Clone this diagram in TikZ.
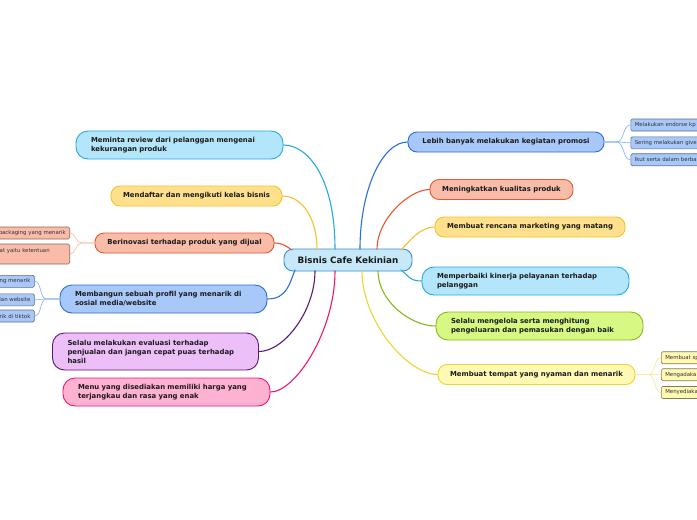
\documentclass[tikz,border=0pt]{standalone}
\usepackage{fontspec}
\setmainfont{DejaVu Sans}
\usetikzlibrary{calc}
\definecolor{txt}{HTML}{1A1A1A}
\definecolor{leaftxt}{HTML}{333333}
\definecolor{centerfill}{HTML}{C6E8F8}
\definecolor{centerline}{HTML}{3B8ED3}
\definecolor{cyanfill}{HTML}{B3E5FB}
\definecolor{cyanline}{HTML}{27A8E3}
\definecolor{yellowfill}{HTML}{FFE08C}
\definecolor{yellowline}{HTML}{F8BF2A}
\definecolor{salmonfill}{HTML}{F9BCA9}
\definecolor{salmonline}{HTML}{E9552E}
\definecolor{bluefill}{HTML}{A8C8F9}
\definecolor{blueline}{HTML}{2A6FD6}
\definecolor{purplefill}{HTML}{ECBFF9}
\definecolor{purpleline}{HTML}{5A1973}
\definecolor{pinkfill}{HTML}{FFB1D3}
\definecolor{pinkline}{HTML}{F2156D}
\definecolor{limefill}{HTML}{D7F984}
\definecolor{limeline}{HTML}{87B81D}
\definecolor{lyellowfill}{HTML}{FFF9B3}
\definecolor{lyellowline}{HTML}{EED433}

\begin{document}
\begin{tikzpicture}[x=1pt,y=-1pt,
	topic/.style={draw, line width=0.9pt, rounded corners=9pt, inner ysep=0pt, text=txt,
		font=\fontsize{6.9}{9}\selectfont\bfseries},
	oneline/.style={inner xsep=0pt, align=center},
	twoline/.style={inner xsep=15pt, align=left, rounded corners=12pt},
	leaf/.style={draw, line width=0.6pt, rounded corners=1.5pt, inner xsep=4pt, inner ysep=0pt,
		minimum height=12pt, text width=100pt, text=leaftxt, font=\fontsize{5.4}{7}\selectfont},
	link/.style={line width=1.1pt, line cap=round},
	leaflink/.style={line width=0.7pt}]
	\useasboundingbox (0,0) rectangle (697,520);
	\clip (0,0) rectangle (697,520);

	\node[draw=centerline, fill=centerfill, line width=0.9pt, rounded corners=9pt, text=txt,
		font=\fontsize{8.8}{10}\selectfont\bfseries, minimum width=128pt, minimum height=22pt,
		inner sep=0pt] (c) at (348,260) {Bisnis Cafe Kekinian};

	% left side
	\node[topic, twoline, draw=cyanline, fill=cyanfill, text width=177pt, minimum height=28pt]
		(review) at (179.5,145) {Meminta review dari pelanggan mengenai\\kekurangan produk};
	\node[topic, oneline, draw=yellowline, fill=yellowfill, minimum width=171pt, minimum height=20pt]
		(kelas) at (196.5,196) {Mendaftar dan mengikuti kelas bisnis};
	\node[topic, oneline, draw=salmonline, fill=salmonfill, minimum width=179pt, minimum height=20pt]
		(inovasi) at (184.5,243) {Berinovasi terhadap produk yang dijual};
	\node[topic, twoline, draw=blueline, fill=bluefill, text width=177pt, minimum height=28pt]
		(profil) at (163.5,299) {Membangun sebuah profil yang menarik di\\sosial media/website};
	\node[topic, twoline, draw=purpleline, fill=purplefill, text width=176pt, minimum height=37pt]
		(evaluasi) at (155.5,351.5) {Selalu melakukan evaluasi terhadap\\penjualan dan jangan cepat puas terhadap\\hasil};
	\node[topic, twoline, draw=pinkline, fill=pinkfill, text width=177pt, minimum height=28pt]
		(menu) at (166.5,392) {Menu yang disediakan memiliki harga yang\\terjangkau dan rasa yang enak};

	% right side
	\node[topic, oneline, draw=blueline, fill=bluefill, minimum width=196pt, minimum height=20pt]
		(promosi) at (506,142) {Lebih banyak melakukan kegiatan promosi};
	\node[topic, oneline, draw=salmonline, fill=salmonfill, minimum width=143pt, minimum height=20pt]
		(kualitas) at (501.5,189.5) {Meningkatkan kualitas produk};
	\node[topic, oneline, draw=yellowline, fill=yellowfill, minimum width=190pt, minimum height=20pt]
		(marketing) at (530,227) {Membuat rencana marketing yang matang};
	\node[topic, twoline, draw=cyanline, fill=cyanfill, text width=177pt, minimum height=28pt]
		(pelayanan) at (525.5,281) {Memperbaiki kinerja pelayanan terhadap\\pelanggan};
	\node[topic, twoline, draw=limeline, fill=limefill, text width=177pt, minimum height=28pt]
		(keuangan) at (539.5,326) {Selalu mengelola serta menghitung\\pengeluaran dan pemasukan dengan baik};
	\node[topic, oneline, draw=lyellowline, fill=lyellowfill, minimum width=197pt, minimum height=20pt]
		(tempat) at (536.5,374.5) {Membuat tempat yang nyaman dan menarik};

	% branches
	\draw[link, cyanline] (review.east) .. controls +(25,0) and +(0,-70) .. ($(c)+(-13,-11)$);
	\draw[link, yellowline] (kelas.east) .. controls +(20,0) and +(0,-30) .. ($(c)+(-31,-11)$);
	\draw[link, salmonline] (inovasi.east) .. controls +(8,0) and +(-6,-4) .. ($(c)+(-56,-10)$);
	\draw[link, blueline] (profil.east) .. controls +(20,0) and +(-5,12) .. ($(c)+(-53,10)$);
	\draw[link, purpleline] (evaluasi.east) .. controls +(25,0) and +(0,40) .. ($(c)+(-33,11)$);
	\draw[link, pinkline] (menu.east) .. controls +(25,0) and +(0,60) .. ($(c)+(-13,11)$);
	\draw[link, blueline] (promosi.west) .. controls +(-25,0) and +(0,-60) .. ($(c)+(12,-11)$);
	\draw[link, salmonline] (kualitas.west) .. controls +(-20,0) and +(0,-30) .. ($(c)+(29,-11)$);
	\draw[link, yellowline] (marketing.west) .. controls +(-15,0) and +(8,-8) .. ($(c)+(53,-10)$);
	\draw[link, cyanline] (pelayanan.west) .. controls +(-12,0) and +(8,6) .. ($(c)+(53,10)$);
	\draw[link, limeline] (keuangan.west) .. controls +(-25,0) and +(0,30) .. ($(c)+(30,11)$);
	\draw[link, lyellowline] (tempat.west) .. controls +(-30,0) and +(0,50) .. ($(c)+(14,11)$);

	% leaves
	\foreach \n/\y/\t in {p1/125/Melakukan endorse kp, p2/142.8/Sering melakukan give, p3/159.7/Ikut serta dalam berba}{
		\node[leaf, anchor=west, align=left, fill=bluefill, draw=bluefill!55!black] (\n) at (630.5,\y) {\t};
		\draw[leaflink, bluefill!80!blueline] (promosi.east) -- ++(12,0) .. controls +(8,0) and +(-8,0) .. (\n.west);
	}
	\foreach \n/\y/\t in {t1/357.7/Membuat sp, t2/374.7/Mengadaka, t3/392.5/Menyediaka}{
		\node[leaf, anchor=west, align=left, fill=lyellowfill, draw=lyellowfill!50!black] (\n) at (661,\y) {\t};
		\draw[leaflink, lyellowline!50] (tempat.east) -- ++(13,0) .. controls +(7,0) and +(-7,0) .. (\n.west);
	}
	\foreach \n/\y/\t in {b1/281.3/ng menarik, b2/299.8/lan website, b3/316/rik di tiktok}{
		\node[leaf, anchor=east, align=right, fill=bluefill, draw=bluefill!55!black] (\n) at (34.7,\y) {\t};
		\draw[leaflink, bluefill!80!blueline] (profil.west) -- ++(-13,0) .. controls +(-7,0) and +(7,0) .. (\n.east);
	}
	\node[leaf, anchor=east, align=right, fill=salmonfill, draw=salmonfill!55!black] (s1) at (70,233) {packaging yang menarik};
	\node[leaf, anchor=east, align=right, fill=salmonfill, draw=salmonfill!55!black, minimum height=20pt]
		(s2) at (70,254) {at yaitu ketentuan\rule{16pt}{0pt}\\\mbox{}};
	\foreach \n in {s1,s2}
		\draw[leaflink, salmonfill] (inovasi.west) -- ++(-13,0) .. controls +(-6,0) and +(6,0) .. (\n.east);
\end{tikzpicture}
\end{document}
